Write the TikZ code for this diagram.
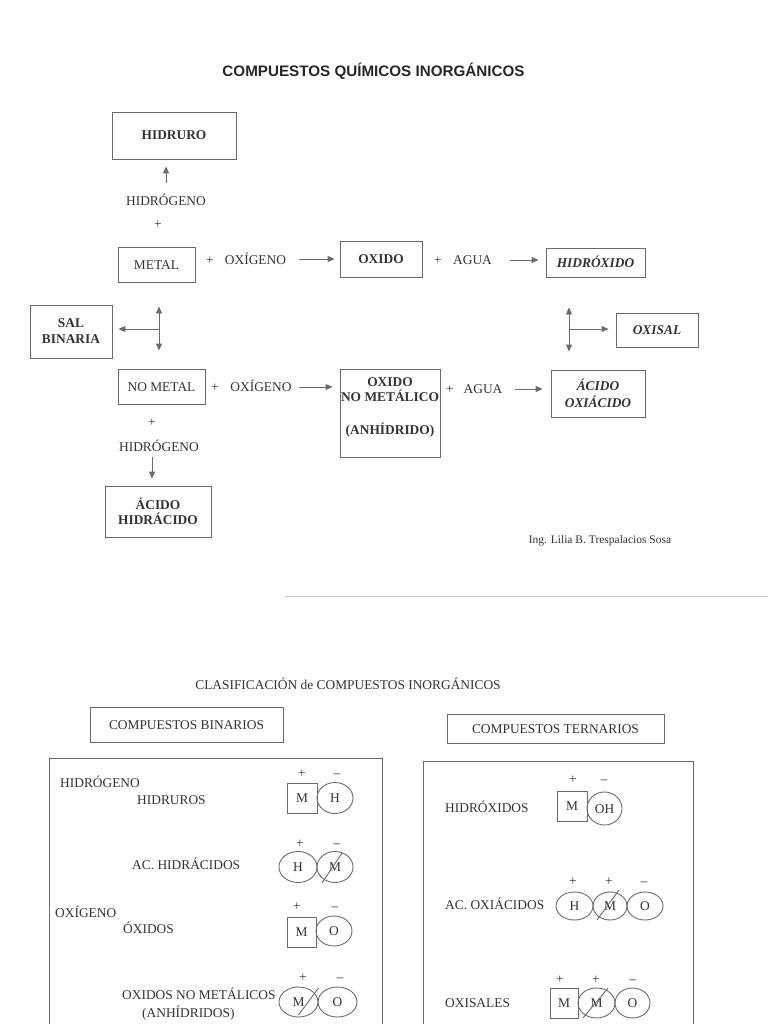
\documentclass[tikz,border=0pt]{standalone}
\usepackage{fontspec}
\setmainfont{Liberation Serif}
\newfontfamily\titlefont{Liberation Sans}
\usetikzlibrary{arrows.meta,shapes.geometric}

\definecolor{ink}{gray}{0.2}
\definecolor{rule}{gray}{0.42}

\begin{document}
\begin{tikzpicture}[x=1pt, y=-1pt,
		base/.style={inner sep=0pt, text=ink, font=\fontsize{13.4}{16}\selectfont},
		lbl/.style={base, text height=9pt, text depth=0pt},
		plainbox/.style={lbl, draw=rule, line width=0.9pt},
		box/.style={plainbox, font=\fontsize{13.4}{16}\selectfont\bfseries},
		itbox/.style={plainbox, font=\fontsize{13.4}{16}\selectfont\bfseries\itshape},
		twobox/.style={base, draw=rule, line width=0.9pt, align=center, font=\fontsize{13.4}{16}\selectfont\bfseries},
		ion/.style={lbl, draw=rule, line width=0.9pt, ellipse},
		sq/.style={lbl, draw=rule, line width=0.9pt, rectangle},
		arr/.style={draw=rule, line width=0.9pt, -{Triangle[length=7pt,width=6pt]}},
		darr/.style={draw=rule, line width=0.9pt, {Triangle[length=7pt,width=6pt]}-{Triangle[length=7pt,width=6pt]}},
		slash/.style={draw=rule, line width=0.9pt}]
		\useasboundingbox (0,0) rectangle (768,1024);
		\clip (0,0) rectangle (768,1024);

		\node[inner sep=0pt, text=black!85, text height=10.7pt, text depth=0pt, font={\titlefont\bfseries\fontsize{15.2}{18}\selectfont}] (1) at (373.5,71) {COMPUESTOS QUÍMICOS INORGÁNICOS};

		\node[box, minimum width=124pt, minimum height=47pt] (2) at (174,135.5) {HIDRURO};
		\node[lbl] (3) at (166,201) {HIDRÓGENO};
		\node[lbl] (4) at (158,224) {+};
		\node[plainbox, minimum width=77pt, minimum height=35pt] (5) at (156.5,264.5) {METAL};
		\node[lbl] (6) at (210,260) {+};
		\node[lbl] (7) at (255.5,260) {OXÍGENO};
		\node[box, minimum width=82pt, minimum height=36pt] (8) at (381,259) {OXIDO};
		\node[lbl] (9) at (438,260) {+};
		\node[lbl] (10) at (472.5,260) {AGUA};
		\node[itbox, minimum width=99pt, minimum height=29pt] (11) at (595.5,262.5) {HIDRÓXIDO};

		\node[twobox, minimum width=82pt, minimum height=53pt] (12) at (71,331.5) {SAL\\BINARIA};
		\node[plainbox, minimum width=87pt, minimum height=35pt] (13) at (161.5,386.5) {NO METAL};
		\node[lbl] (14) at (215,387) {+};
		\node[lbl] (15) at (261,387) {OXÍGENO};
		\node[draw=rule, line width=0.9pt, minimum width=100pt, minimum height=88pt, inner sep=0pt] (16) at (390,413) {};
		\node[base, align=center, font=\fontsize{13.4}{15}\selectfont\bfseries] (17) at (390,407.5) {OXIDO\\NO METÁLICO\\[18pt](ANHÍDRIDO)};
		\node[lbl] (18) at (450,389) {+};
		\node[lbl] (19) at (483,389) {AGUA};
		\node[twobox, minimum width=94pt, minimum height=47pt, font=\fontsize{13.4}{17}\selectfont\bfseries\itshape] (20) at (598,393.5) {ÁCIDO\\OXIÁCIDO};
		\node[itbox, minimum width=82pt, minimum height=34pt] (21) at (657,330) {OXISAL};

		\node[lbl] (22) at (152,422) {+};
		\node[lbl] (23) at (159,447) {HIDRÓGENO};
		\node[twobox, minimum width=106pt, minimum height=51pt, font=\fontsize{13.4}{15}\selectfont\bfseries] (24) at (158,511.5) {ÁCIDO\\HIDRÁCIDO};
		\node[inner sep=0pt, text=ink, text height=7.6pt, text depth=0pt, font=\fontsize{11.5}{14}\selectfont] (25) at (600,540) {Ing. Lilia B. Trespalacios Sosa};

		\coordinate (c1) at (159,329);
		\coordinate (c2) at (569,329);

		\draw[arr, shorten <=13.5pt, shorten >=7pt] (3.north) -- (3.north |- 2.south);
		\draw[arr, shorten <=13pt, shorten >=5pt] (7.east |- 8.west) -- (8.west);
		\draw[arr, shorten <=18pt, shorten >=7pt] (10.east) -- (10.east -| 11.west);
		\draw[arr, shorten <=7.5pt, shorten >=7pt] (15.east) -- (15.east -| 16.west);
		\draw[arr, shorten <=12.5pt, shorten >=8pt] (19.east) -- (19.east -| 20.west);
		\draw[arr, shorten <=5.5pt, shorten >=7pt] (22 |- 23.south) -- (22 |- 24.north);
		\draw[darr, shorten <=24pt, shorten >=18pt] (c1 |- 5.south) -- (c1 |- 13.north);
		\draw[arr, shorten >=6pt] (c1) -- (c1 -| 12.east);
		\draw[darr, shorten <=30pt, shorten >=18pt] (c2 |- 11.south) -- (c2 |- 20.north);
		\draw[arr, shorten >=7pt] (c2) -- (c2 -| 21.west);

		\draw[black!25, line width=0.8pt] (285,596) -- (768,596);

		\node[lbl] (26) at (348,685) {CLASIFICACIÓN de COMPUESTOS INORGÁNICOS};
		\node[plainbox, minimum width=193pt, minimum height=35pt] (27) at (186.5,724.5) {COMPUESTOS BINARIOS};
		\node[plainbox, minimum width=217pt, minimum height=29pt] (28) at (555.5,728.5) {COMPUESTOS TERNARIOS};
		\node[draw=rule, line width=0.9pt, minimum width=333pt, minimum height=272pt, inner sep=0pt] (29) at (215.5,894) {};
		\node[draw=rule, line width=0.9pt, minimum width=270pt, minimum height=269pt, inner sep=0pt] (30) at (558,895.5) {};

		\node[lbl, anchor=west] (31) at (60,783) {HIDRÓGENO};
		\node[lbl, anchor=west] (32) at (137,800) {HIDRUROS};
		\node[lbl, anchor=west] (33) at (132,865) {AC. HIDRÁCIDOS};
		\node[lbl, anchor=west] (34) at (55,913) {OXÍGENO};
		\node[lbl, anchor=west] (35) at (123,929) {ÓXIDOS};
		\node[lbl, anchor=west] (36) at (122,995) {OXIDOS NO METÁLICOS};
		\node[lbl, anchor=west] (37) at (142,1013) {(ANHÍDRIDOS)};
		\node[lbl, anchor=west] (38) at (445,808) {HIDRÓXIDOS};
		\node[lbl, anchor=west] (39) at (445,905) {AC. OXIÁCIDOS};
		\node[lbl, anchor=west] (40) at (445,1003) {OXISALES};

		\node[lbl] (41) at (302,773) {+};
		\node[lbl] (42) at (337,773) {–};
		\node[sq, minimum width=30pt, minimum height=30pt] (43) at (302,798) {M};
		\node[ion, minimum width=36pt, minimum height=31pt] (44) at (335,798) {H};

		\node[lbl] (45) at (300,843) {+};
		\node[lbl] (46) at (337,843) {–};
		\node[ion, minimum width=38pt, minimum height=31pt] (47) at (298,867) {H};
		\node[ion, minimum width=36pt, minimum height=31pt] (48) at (335,867) {M};
		\draw[slash] (48.center) ++(-13,16) -- ++(20,-30);

		\node[lbl] (49) at (297,906) {+};
		\node[lbl] (50) at (335,906) {–};
		\node[sq, minimum width=29pt, minimum height=30pt] (51) at (301.5,932) {M};
		\node[ion, minimum width=36pt, minimum height=30pt] (52) at (334,931) {O};

		\node[lbl] (53) at (303,977) {+};
		\node[lbl] (54) at (340,977) {–};
		\node[ion, minimum width=39pt, minimum height=30pt] (55) at (298.5,1002) {M};
		\node[ion, minimum width=39pt, minimum height=30pt] (56) at (337.5,1002) {O};
		\draw[slash] (55.center) ++(0,13) -- ++(20,-27);

		\node[lbl] (57) at (573,779) {+};
		\node[lbl] (58) at (604,779) {–};
		\node[sq, minimum width=30pt, minimum height=30pt] (59) at (572,806) {M};
		\node[ion, minimum width=35pt, minimum height=33pt] (60) at (604.5,808.5) {OH};

		\node[lbl] (61) at (573,881) {+};
		\node[lbl] (62) at (609,881) {+};
		\node[lbl] (63) at (644,881) {–};
		\node[ion, minimum width=37pt, minimum height=28pt] (64) at (574.5,906) {H};
		\node[ion, minimum width=34pt, minimum height=28pt] (65) at (610,906) {M};
		\node[ion, minimum width=36pt, minimum height=28pt] (66) at (645,906) {O};
		\draw[slash] (65.center) ++(-13,14) -- ++(22,-30);

		\node[lbl] (67) at (560,979) {+};
		\node[lbl] (68) at (596,979) {+};
		\node[lbl] (69) at (633,979) {–};
		\node[sq, minimum width=28pt, minimum height=30pt] (70) at (564,1003) {M};
		\node[ion, minimum width=37pt, minimum height=30pt] (71) at (596.5,1003) {M};
		\node[ion, minimum width=35pt, minimum height=30pt] (72) at (632.5,1003) {O};
		\draw[slash] (71.center) ++(-13.5,15) -- ++(25,-30);

	\end{tikzpicture}
\end{document}
